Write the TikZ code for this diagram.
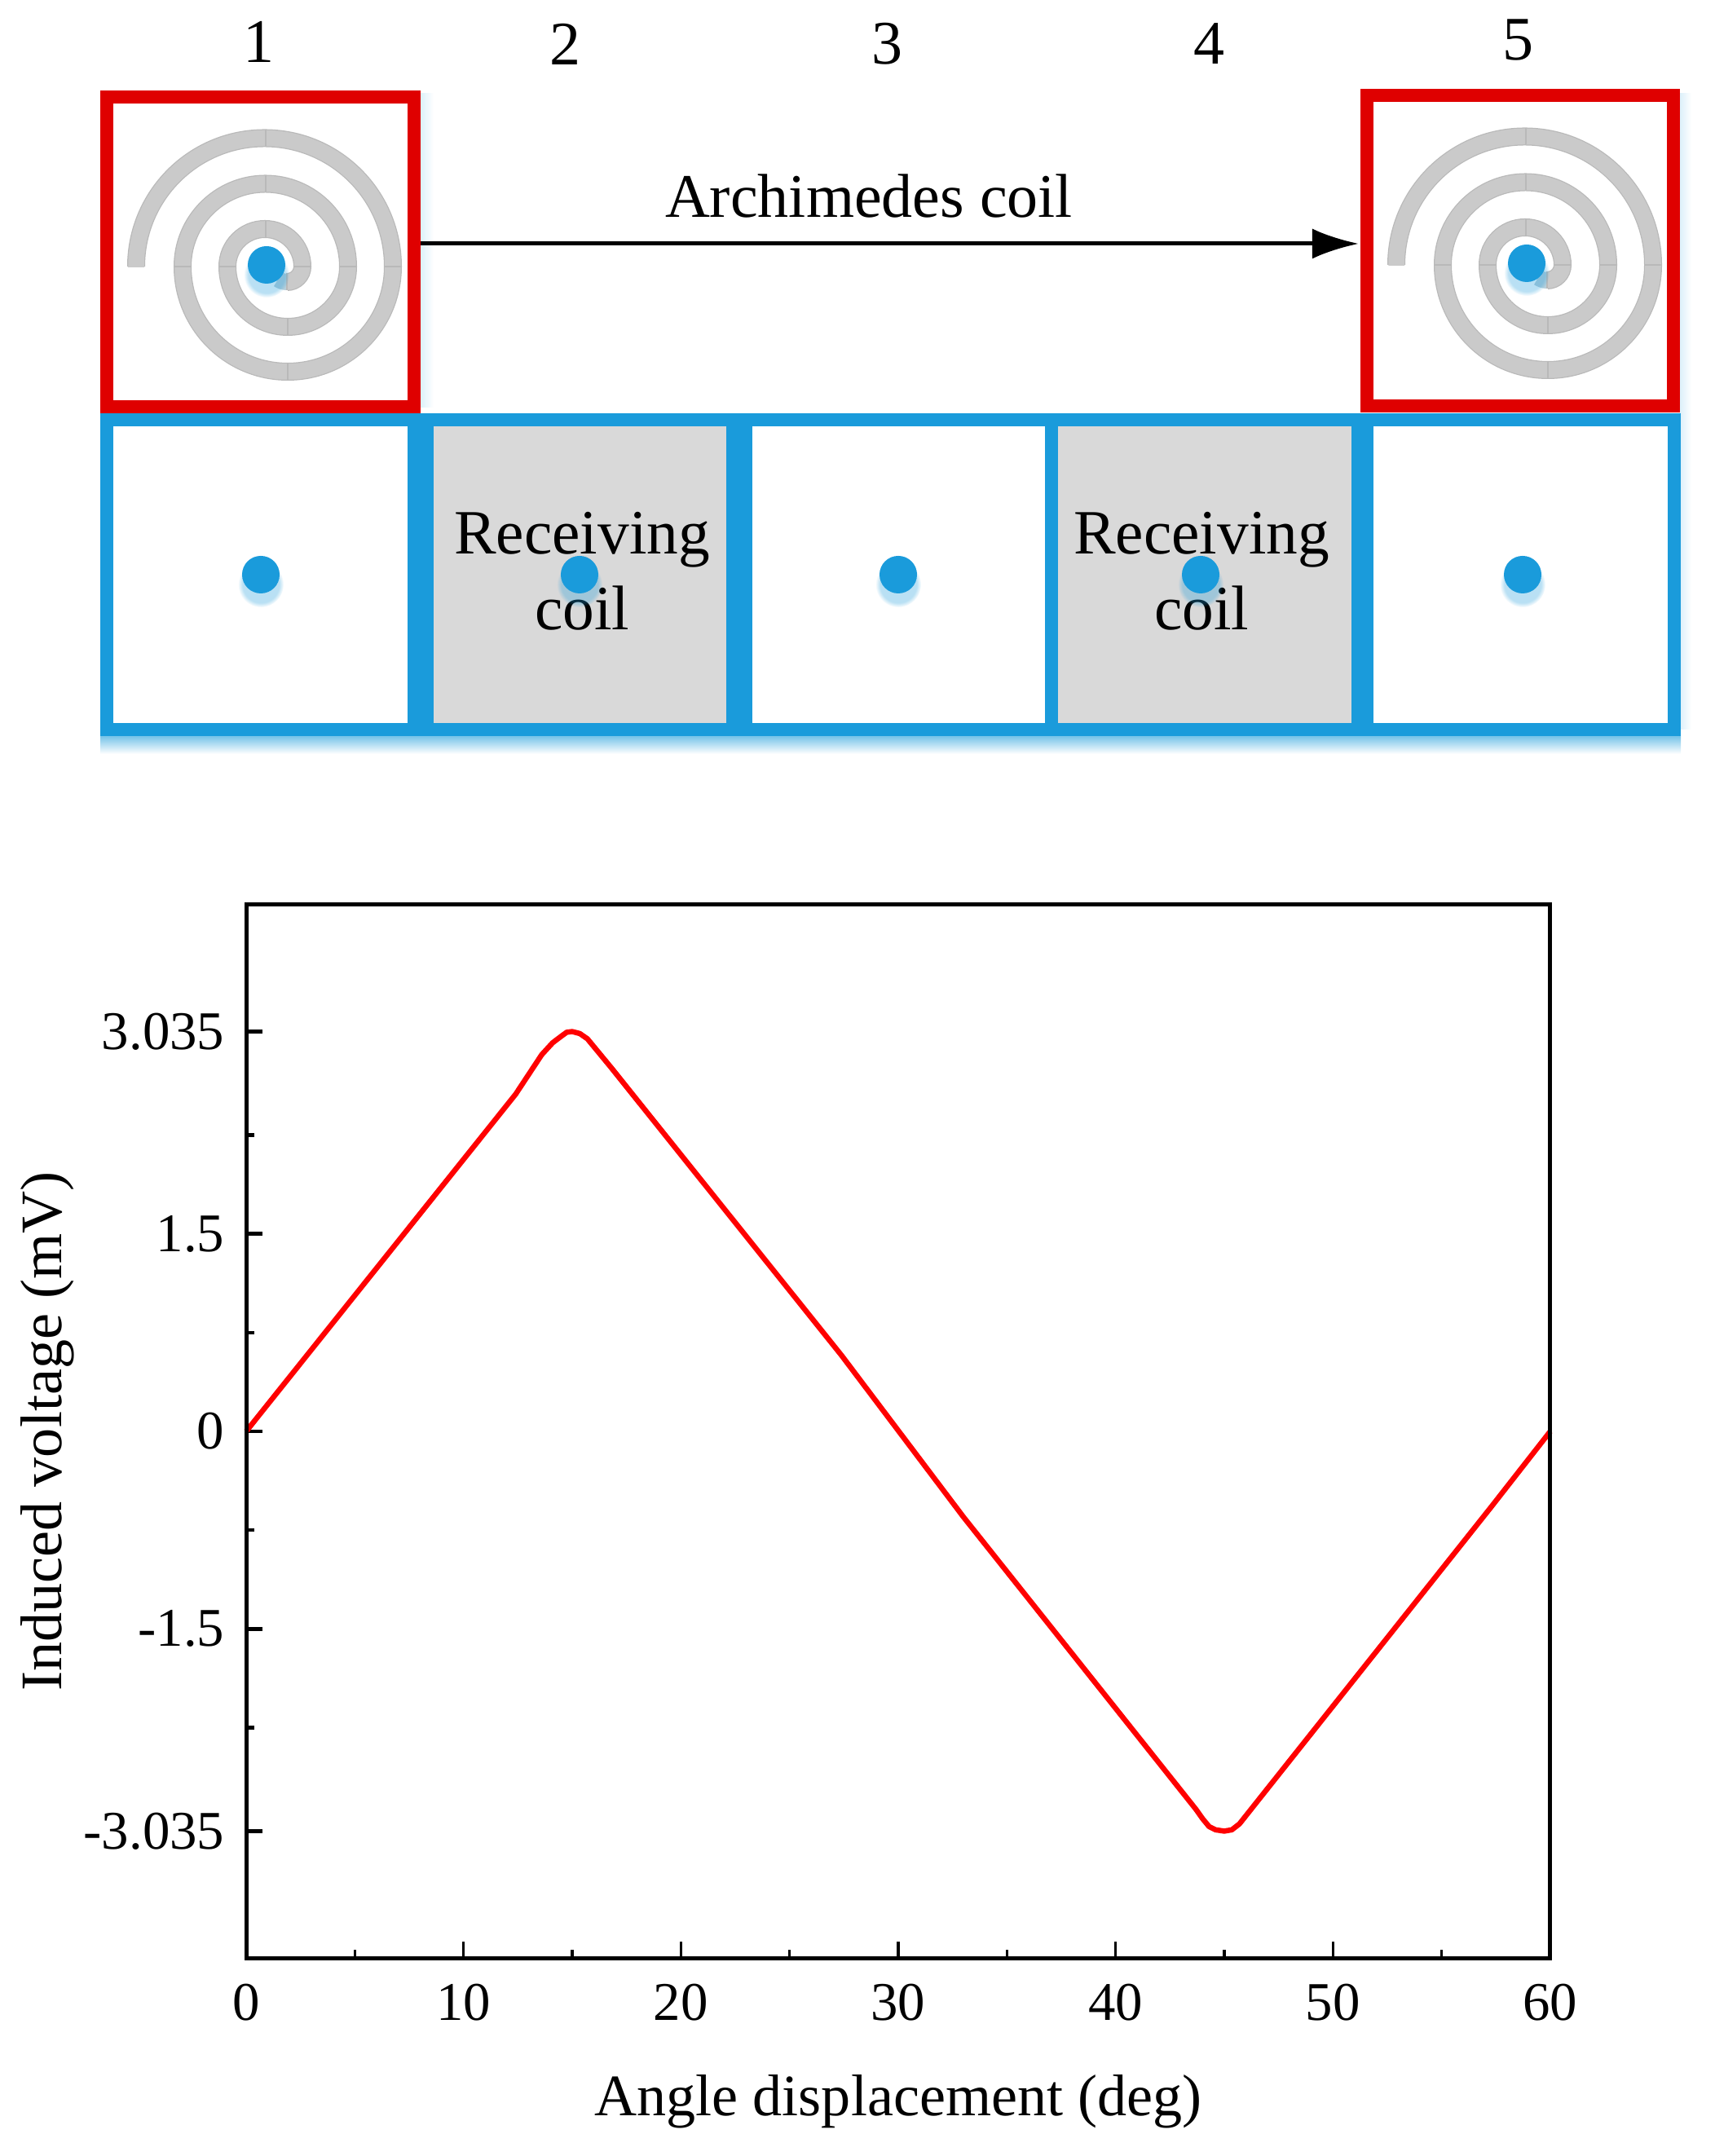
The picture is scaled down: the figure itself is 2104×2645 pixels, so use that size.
\documentclass[tikz,border=0pt]{standalone}
\usepackage{fontspec}
\setmainfont{Liberation Serif}
\usetikzlibrary{arrows.meta}
\usetikzlibrary{fadings}
\definecolor{cellblue}{HTML}{1A9BDB}
\definecolor{boxred}{HTML}{DF0000}
\definecolor{cellgray}{HTML}{D9D9D9}
\definecolor{coilgray}{HTML}{CACACA}
\definecolor{coiledge}{HTML}{B9B9B9}
\tikzset{
redbox/.style={draw=boxred,line width=0.16cm,fill=white,inner sep=0pt,minimum width=3.77cm,minimum height=3.8cm},
cellbox/.style={draw=cellblue,line width=0.16cm,fill=white,inner sep=0pt,minimum width=3.76cm,minimum height=3.8cm},
graycell/.style={cellbox,fill=cellgray},
bluedot/.style={circle,fill=cellblue,inner sep=0pt,minimum size=0.46cm},
dotshadow/.style={fill=cellblue,opacity=0.3,path fading=circle with fuzzy edge 20 percent},
toplabel/.style={font=\fontsize{21.6}{25}\selectfont,inner sep=0pt},
coiltext/.style={font=\fontsize{22}{26.5}\selectfont,align=center,inner sep=0pt},
ticklabel/.style={font=\fontsize{19}{23}\selectfont,inner sep=0pt},
axistitle/.style={font=\fontsize{20.5}{25}\selectfont,inner sep=0pt},
}
% one gray spiral, seams included
\newcommand{\spiralcoil}[2]{
\begin{scope}[shift={(#1,#2)}]
\draw[coiledge,line width=0.22cm] (167,2318) arc (180:0:157.5) arc (0:-180:129) arc (180:0:101.5) arc (0:-180:74) arc (180:0:46) arc (0:-90:19);
\draw[coilgray,line width=0.195cm] (167,2317) -- (167,2318) arc (180:0:157.5) arc (0:-180:129) arc (180:0:101.5) arc (0:-180:74) arc (180:0:46) arc (0:-90:19);
\draw[coiledge!70!cellblue!60!white,line width=0.2cm] (352,2299) arc (-90:-125:19);
\foreach \sx in {482,224,427,279,371} \draw[coiledge,line width=0.012cm] (\sx-10,2318) -- (\sx+10,2318);
\foreach \sx/\sy in {326/2475.5,326/2419.5,326/2364,353/2189,353/2244,352/2299} \draw[coiledge,line width=0.012cm] (\sx,\sy-10) -- (\sx,\sy+10);
\end{scope}
}
\begin{document}
\begin{tikzpicture}[x=0.01cm,y=0.01cm]
\useasboundingbox (0,0) rectangle (2104,2645);
% soft shadows
\shade[top color=cellblue!60!white,bottom color=white] (123,1742) rectangle (2062,1720);
\shade[left color=cellblue!15!white,right color=white] (516,2145) rectangle (532,2530);
\shade[left color=cellblue!15!white,right color=white] (2061,1750) rectangle (2075,2530);
% position numbers
\node[toplabel] (num1) at (317,2594) {1};
\node[toplabel] (num2) at (693,2591) {2};
\node[toplabel] (num3) at (1088,2591) {3};
\node[toplabel] (num4) at (1483,2591) {4};
\node[toplabel] (num5) at (1862,2596) {5};
% receiving row
\node[cellbox] (cell1) at (319.5,1940) {};
\node[graycell,minimum width=3.75cm] (cell2) at (711.5,1940) {};
\node[cellbox,minimum width=3.77cm] (cell3) at (1103.5,1940) {};
\node[graycell] (cell4) at (1478,1940) {};
\node[cellbox,minimum width=3.77cm] (cell5) at (1865.5,1940) {};
\node[coiltext] (recv2) at (714,1944) {Receiving\\coil};
\node[coiltext] (recv4) at (1474,1944) {Receiving\\coil};
\foreach \name/\dotx in {1/320,2/711,3/1102,4/1473,5/1868}{
\fill[dotshadow] (\dotx,1928) circle (28);
\node[bluedot] (rdot\name) at (\dotx,1940) {};
}
% moving coil, both ends
\node[redbox] (coil1) at (319.5,2336) {};
\node[redbox,minimum width=3.76cm,minimum height=3.81cm] (coil5) at (1865,2337.5) {};
\spiralcoil{0}{0}
\spiralcoil{1546}{2}
\fill[dotshadow] (327,2308) circle (28);
\node[bluedot] (cdot1) at (327,2320) {};
\fill[dotshadow] (1873,2310) circle (28);
\node[bluedot] (cdot5) at (1873,2322) {};
\coordinate (arrowfrom) at (516,2346);
\coordinate (arrowto) at (1667,2346);
\draw[line width=0.05cm,-{Latex[length=0.57cm,width=0.37cm]}] (arrowfrom) -- (arrowto);
\node[toplabel] (archi) at (1066,2404) {Archimedes coil};
% voltage plot, in data units
\begin{scope}[shift={(302,889)},x=0.2665cm,y=1.615cm]
\foreach \x in {0,10,...,60}{
\draw[line width=0.035cm] (\x,-4) -- ++(0,0.2cm);
\node[ticklabel] (xlab\x) at ([yshift=-0.54cm]\x,-4) {\x};
}
\foreach \x in {5,15,...,55}
\draw[line width=0.035cm] (\x,-4) -- ++(0,0.1cm);
\foreach \y/\ylab in {3.035/3.035,1.5/1.5,0/0,-1.5/-1.5,-3.035/-3.035}{
\draw[line width=0.045cm] (0,\y) -- ++(0.2cm,0);
\node[ticklabel,anchor=east] (ylab\ylab) at ([xshift=-0.26cm]0,\y) {\ylab};
}
\foreach \y in {2.25,0.75,-0.75,-2.25}
\draw[line width=0.045cm] (0,\y) -- ++(0.1cm,0);
\draw[red,line width=0.065cm,line join=round] plot coordinates {(0,0) (12.4,2.56) (13.6,2.86) (14.1,2.95) (14.5,3) (14.75,3.03) (15,3.035) (15.35,3.02) (15.7,2.98) (16.8,2.76) (27.4,0.575) (33,-0.65) (43.7,-2.87) (44,-2.94) (44.3,-3) (44.6,-3.025) (45,-3.035) (45.35,-3.025) (45.7,-2.98) (57.3,-0.57) (60,0)};
\draw[line width=0.05cm] (0,-4) rectangle (60,4);
\node[axistitle] (xtitle) at (30,-5.09) {Angle displacement (deg)};
\node[axistitle,rotate=90] (ytitle) at ([xshift=-2.44cm]0,0) {Induced voltage (mV)};
\end{scope}
\end{tikzpicture}
\end{document}
